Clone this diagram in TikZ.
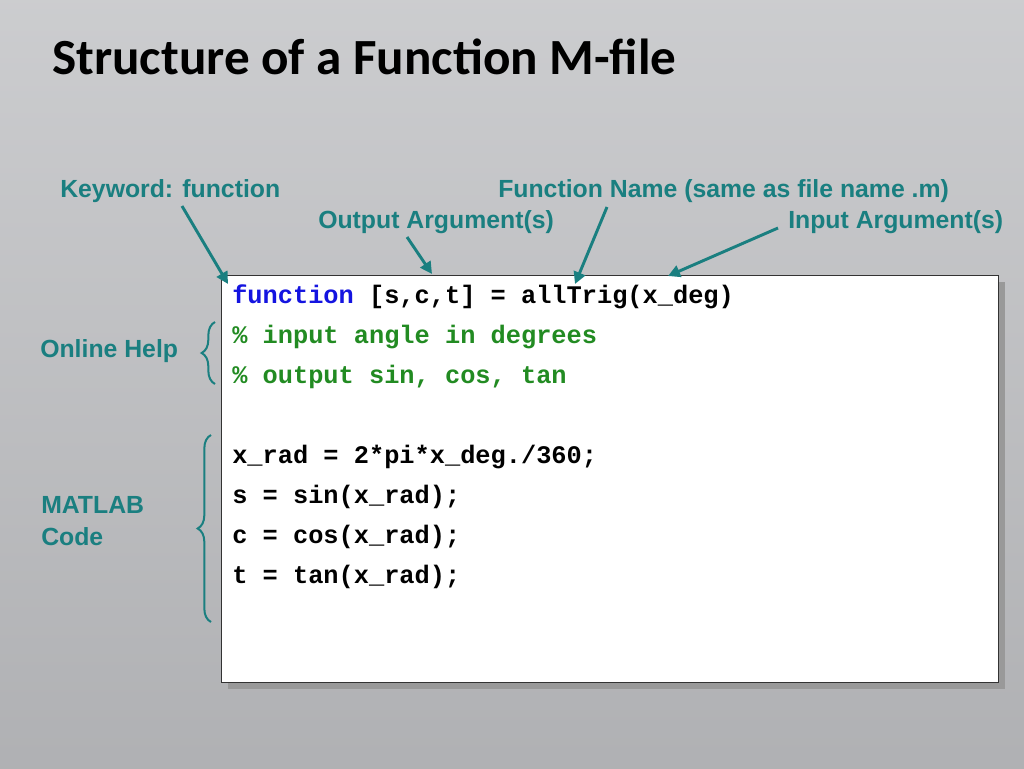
\documentclass[tikz,border=0pt]{standalone}
\usepackage{fontspec}
\setmainfont{Liberation Sans}
\newfontfamily\titlefont{Carlito}
\newfontfamily\codefont{Liberation Mono}
\usetikzlibrary{arrows.meta,decorations.pathreplacing}
\definecolor{teal1}{HTML}{1A7F80}
\definecolor{bgc}{HTML}{BFC0C3}
\definecolor{kw}{HTML}{1414E0}
\definecolor{cm}{HTML}{228B22}
\begin{document}
\begin{tikzpicture}[x=0.75pt,y=-0.75pt,
  lbl/.style={text=teal1,font=\fontsize{18.6}{22.5}\selectfont\bfseries,inner sep=0,anchor=base west},
  code/.style={font=\codefont\fontsize{19}{20}\selectfont\bfseries,inner sep=0,anchor=base west},
  arr/.style={draw=teal1,line width=2.2pt,-{Triangle[length=9pt,width=9pt]}},
  br/.style={draw=teal1,line width=1.5pt,decorate,decoration={brace,amplitude=10pt,mirror}}]
\useasboundingbox (0,0) rectangle (1024,768);
\shade[top color=bgc!80!white,bottom color=bgc!92!black] (0,0) rectangle (1024,768);
\node[anchor=base west,inner sep=0,font=\titlefont\fontsize{38}{42}\selectfont\bfseries,xscale=1.01,transform shape] (title) at (52,74) {Structure of a Function M-file};
\fill[gray!80] (228,282) rectangle (1005,689);
\node[draw=black!80,fill=white,line width=0.8pt,minimum width=777*0.75pt,minimum height=407*0.75pt,anchor=north west,inner sep=0] (box) at (221,275) {};
\node[code] (l1) at (232,303) {\textcolor{kw}{function} [s,c,t] = allTrig(x\_deg)};
\node[code,text=cm] (l2) at (232,343) {\% input angle in degrees};
\node[code,text=cm] (l3) at (232,383) {\% output sin, cos, tan};
\node[code] (l4) at (232,463) {x\_rad = 2*pi*x\_deg./360;};
\node[code] (l5) at (232,503) {s = sin(x\_rad);};
\node[code] (l6) at (232,543) {c = cos(x\_rad);};
\node[code] (l7) at (232,583) {t = tan(x\_rad);};
\node[lbl] (kwl) at (60,197) {Keyword: function};
\node[lbl] (fnl) at (498,197) {Function Name (same as file name .m)};
\node[lbl] (outl) at (318,228) {Output Argument(s)};
\node[lbl] (inl) at (788,228) {Input Argument(s)};
\node[lbl] (help) at (40,357) {Online Help};
\node[lbl] (mat) at (41,513) {MATLAB};
\node[lbl] (mat2) at (41,545) {Code};
\coordinate (a1) at (228,284); \coordinate (a2) at (432,274);
\coordinate (a3) at (575,284); \coordinate (a4) at (668,276);
\draw[arr] (182,206) -- (a1);
\draw[arr] (407,237) -- (a2);
\draw[arr] (607,207) -- (a3);
\draw[arr] (778,228) -- (a4);
\draw[br] (215,322) -- (215,384);
\draw[br] (211,435) -- (211,622);
\end{tikzpicture}
\end{document}
